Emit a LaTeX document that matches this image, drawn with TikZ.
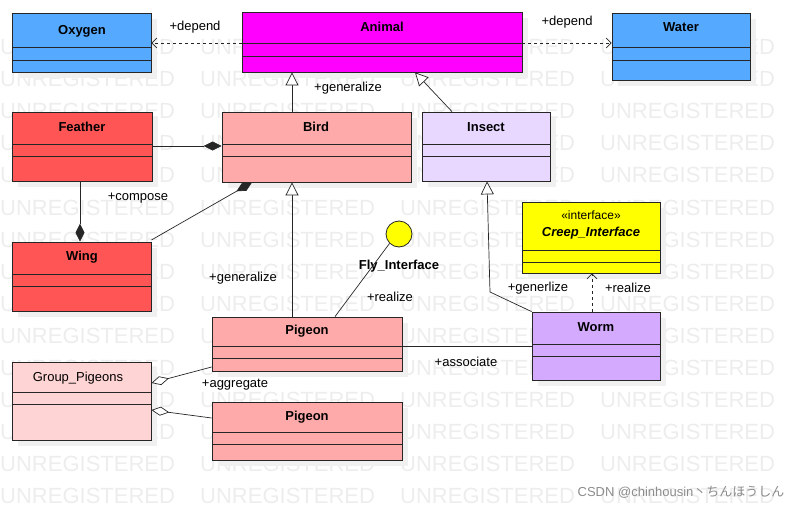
\documentclass[tikz,border=0pt]{standalone}
\usepackage{fontspec}
\setmainfont{Liberation Sans}
\newfontfamily\cjk{Noto Sans CJK JP}
\usetikzlibrary{arrows.meta,fit,calc,shadows}
\definecolor{cblue}{HTML}{55AAFF}
\definecolor{cmag}{HTML}{FF00FF}
\definecolor{cred}{HTML}{FF5555}
\definecolor{cpink}{HTML}{FFAAAA}
\definecolor{clpink}{HTML}{FFD4D4}
\definecolor{clav}{HTML}{E8D8FF}
\definecolor{cviol}{HTML}{D4AAFF}
\definecolor{cyel}{HTML}{FFFF00}
\tikzset{
  ubox/.style={draw=black!85, line width=0.8pt, inner sep=0pt,
    drop shadow={shadow xshift=6pt, shadow yshift=-6pt, fill=black!6, opacity=1}},
  utitle/.style={font=\fontsize{13}{15}\selectfont\bfseries},
  lbl/.style={font=\fontsize{13}{15}\selectfont},
  link/.style={draw=black!85, line width=0.7pt},
  dep/.style={link, dashed, -{Straight Barb[length=5pt,width=10pt]}},
  gen/.style={link, -{Triangle[open,length=13pt,width=13pt,fill=white]}},
  comp/.style={link, -{Diamond[length=18pt,width=9pt]}},
  aggr/.style={link, -{Diamond[open,length=18pt,width=9pt,fill=white]}},
  wm/.style={font=\fontsize{22}{22}\selectfont, text=black!7, anchor=west, inner sep=0pt}
}
% #1 name, #2-#5 corners, #6 #7 compartment lines, #8 colour
\newcommand\umlbox[8]{%
  \node[ubox, fill=#8, fit={(#2,#3) (#4,#5)}] (#1) {};
  \draw[black!85, line width=0.8pt] (#2,#6) -- (#4,#6) (#2,#7) -- (#4,#7);
}
\begin{document}
\begin{tikzpicture}[x=1pt,y=-1pt]
\useasboundingbox (0,0) rectangle (801,511);
% watermark
\foreach \r in {0,...,14}
  \foreach \c in {0,...,3}
    \node[wm] (w\r\c) at ({\c*200},{47+\r*32.1}) {UNREGISTERED};

\umlbox{oxy}{12}{13}{151}{72}{47}{60}{cblue}
\umlbox{ani}{242}{12}{522}{72}{43}{56}{cmag}
\umlbox{wat}{612}{13}{750}{80}{47}{60}{cblue}
\umlbox{fea}{12}{112}{152}{181}{144}{156}{cred}
\umlbox{bir}{222}{112}{411}{182}{144}{156}{cpink}
\umlbox{ins}{422}{112}{550}{181}{144}{156}{clav}
\umlbox{win}{12}{242}{151}{311}{274}{286}{cred}
\umlbox{cre}{522}{202}{660}{273}{250}{262}{cyel}
\umlbox{pi1}{212}{317}{402}{371}{346}{358}{cpink}
\umlbox{wor}{532}{312}{660}{380}{344}{356}{cviol}
\umlbox{gro}{12}{362}{151}{440}{392}{404}{clpink}
\umlbox{pi2}{212}{402}{402}{460}{432}{444}{cpink}

\node[utitle] (toxy) at (82,31) {Oxygen};
\node[utitle] (tani) at (382,27) {Animal};
\node[utitle] (twat) at (681,27) {Water};
\node[utitle] (tfea) at (82,127) {Feather};
\node[utitle] (tbir) at (316,127) {Bird};
\node[utitle] (tins) at (486,127) {Insect};
\node[utitle] (twin) at (82,257) {Wing};
\node[font=\fontsize{12}{14}\selectfont] (tcre1) at (591,215) {«interface»};
\node[font=\fontsize{13}{15}\selectfont\bfseries\itshape] (tcre2) at (591,233) {Creep\_Interface};
\node[utitle] (tpi1) at (307,331) {Pigeon};
\node[utitle] (twor) at (596,327) {Worm};
\node[lbl] (tgro) at (78,378) {Group\_Pigeons};
\node[utitle] (tpi2) at (307,417) {Pigeon};

\node[circle, draw=black!85, line width=0.8pt, fill=cyel, minimum size=26pt, inner sep=0pt] (fly) at (399,234) {};
\node[utitle] (tfly) at (399,266) {Fly\_Interface};

% connectors
\draw[dep] (ani.west |- 0,43) -- (oxy.east |- 0,43);
\draw[dep] (ani.east |- 0,43) -- (wat.west |- 0,43);
\draw[gen] (bir.north -| 292,0) -- (ani.south -| 292,0);
\draw[gen] (ins.north -| 452,0) -- (ani.south -| 415,0);
\draw[comp] (fea.east |- 0,146) -- (bir.west |- 0,146);
\draw[comp] (fea.south -| 80,0) -- (win.north -| 80,0);
\draw[comp] (win.east |- 0,240) -- (bir.south -| 252,0);
\draw[gen] (pi1.north -| 292,0) -- (bir.south -| 292,0);
\draw[link] (pi1.north -| 335,0) -- (fly.south west);
\draw[gen] (wor.north west) -- (490,292) -- (ins.south -| 487,0);
\draw[dep] (wor.north -| 592,0) -- (cre.south -| 592,0);
\draw[link] (pi1.east |- 0,346) -- (wor.west |- 0,346);
\draw[aggr] (pi1.west |- 0,367) -- (gro.east |- 0,383);
\draw[aggr] (pi2.west |- 0,418) -- (gro.east |- 0,410);

\node[lbl] (l1) at (195,27) {+depend};
\node[lbl] (l2) at (567,22) {+depend};
\node[lbl] (l3) at (348,88) {+generalize};
\node[lbl] (l4) at (138,198) {+compose};
\node[lbl] (l5) at (243,278) {+generalize};
\node[lbl] (l6) at (390,297) {+realize};
\node[lbl] (l7) at (538,288) {+generlize};
\node[lbl] (l8) at (628,288) {+realize};
\node[lbl] (l9) at (466,362) {+associate};
\node[lbl] (l10) at (235,385) {+aggregate};

\node[font=\fontsize{13}{15}\selectfont, text=black!45, anchor=east] (csdn) at (788,492) {CSDN @chinhousin{\cjk 丶ちんほうしん}};
\end{tikzpicture}
\end{document}
